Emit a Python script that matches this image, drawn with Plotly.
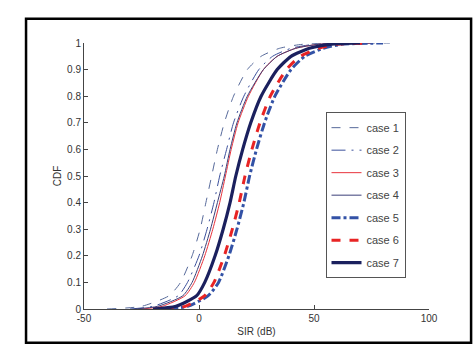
import plotly.graph_objects as go

# CDF levels at which each case's SIR quantile (dB) is listed
cdf_levels = [0, 0.01, 0.05, 0.1, 0.2, 0.3, 0.4, 0.5, 0.6, 0.7, 0.8, 0.9, 0.95, 0.98, 0.995, 1.0]

case1 = [-40, -25, -13, -8, -3, 0.5, 3, 5.5, 8, 11, 15, 21, 27, 35, 45, 83]
case2 = [-30, -20, -9, -5, 0, 3.5, 6.5, 9, 12, 15, 19.5, 26, 32, 40, 50, 80]
case3 = [-25, -16, -6, -2, 2.5, 6, 9, 11.5, 14, 17, 21.5, 28, 34, 42, 52, 75]
case4 = [-28, -18, -7, -3, 1.5, 5, 8, 11, 13.5, 16.5, 21, 28, 34, 42, 52, 75]
case5 = [-13, -5, 4, 8.5, 13, 16.5, 19.5, 22, 25, 28.5, 33, 40, 46, 54, 62, 80]
case6 = [-15, -6, 2.5, 6.5, 11, 14.5, 17.5, 20, 23, 26.5, 31, 38, 44, 52, 60, 75]
case7 = [-20, -10, -1, 2.5, 7, 10.5, 13.5, 16, 19, 22.5, 27, 34, 40, 48, 57, 70]

names = ["case 1", "case 2", "case 3", "case 4", "case 5", "case 6", "case 7"]
series = [case1, case2, case3, case4, case5, case6, case7]
colors = ["#56699a", "#3a4f9c", "#e8323c", "#3b3f78", "#3352a6", "#e82424", "#1b205e"]
widths = [1, 1, 1, 1, 3, 3, 3.2]
dashes = ["dash", "14px,6px,2px,6px", "solid", "solid", "dashdot", "dash", "solid"]

x_ticks = [-50, 0, 50, 100]
x_tick_text = ["-50", "0", "50", "100"]
y_ticks = [i / 10 for i in range(11)]
y_tick_text = ["0", "0.1", "0.2", "0.3", "0.4", "0.5", "0.6", "0.7", "0.8", "0.9", "1"]

fig = go.Figure()
for i, (name, xs) in enumerate(zip(names, series)):
    fig.add_trace(go.Scatter(
        x=xs, y=cdf_levels, mode="lines", name=name,
        legendgroup=name,
        line=dict(color=colors[i], width=widths[i], dash=dashes[i],
                  shape="spline", smoothing=0.6),
    ))

font_family = "Liberation Sans, Arial, sans-serif"

fig.update_layout(
    width=474, height=346,
    margin=dict(l=84, r=45, t=43, b=37),
    paper_bgcolor="white", plot_bgcolor="white",
    font=dict(family=font_family, size=10, color="#333333"),
    showlegend=True,
    legend=dict(
        x=0.7, y=0.74, xanchor="left", yanchor="top",
        bgcolor="white", bordercolor="#555555", borderwidth=1,
        font=dict(size=11, color="#444444"),
        itemwidth=30, tracegroupgap=3.5,
    ),
    xaxis=dict(
        range=[-50, 100], tickvals=x_ticks, ticktext=x_tick_text,
        ticks="inside", ticklen=4, tickcolor="#444444",
        showline=True, linecolor="#444444", linewidth=1,
        showgrid=False, zeroline=False,
        title=dict(text="SIR (dB)", standoff=4, font=dict(size=10)),
    ),
    yaxis=dict(
        range=[0, 1], tickvals=y_ticks, ticktext=y_tick_text,
        ticks="inside", ticklen=4, tickcolor="#444444",
        showline=True, linecolor="#444444", linewidth=1,
        showgrid=False, zeroline=False,
        title=dict(text="CDF", standoff=3, font=dict(size=10)),
    ),
)

# outer figure frame
fig.add_shape(type="rect", xref="paper", yref="paper",
              x0=-0.168, x1=1.122, y0=-0.127, y1=1.091,
              line=dict(color="black", width=2.5), fillcolor="rgba(0,0,0,0)")

fig.write_html("out.html")
